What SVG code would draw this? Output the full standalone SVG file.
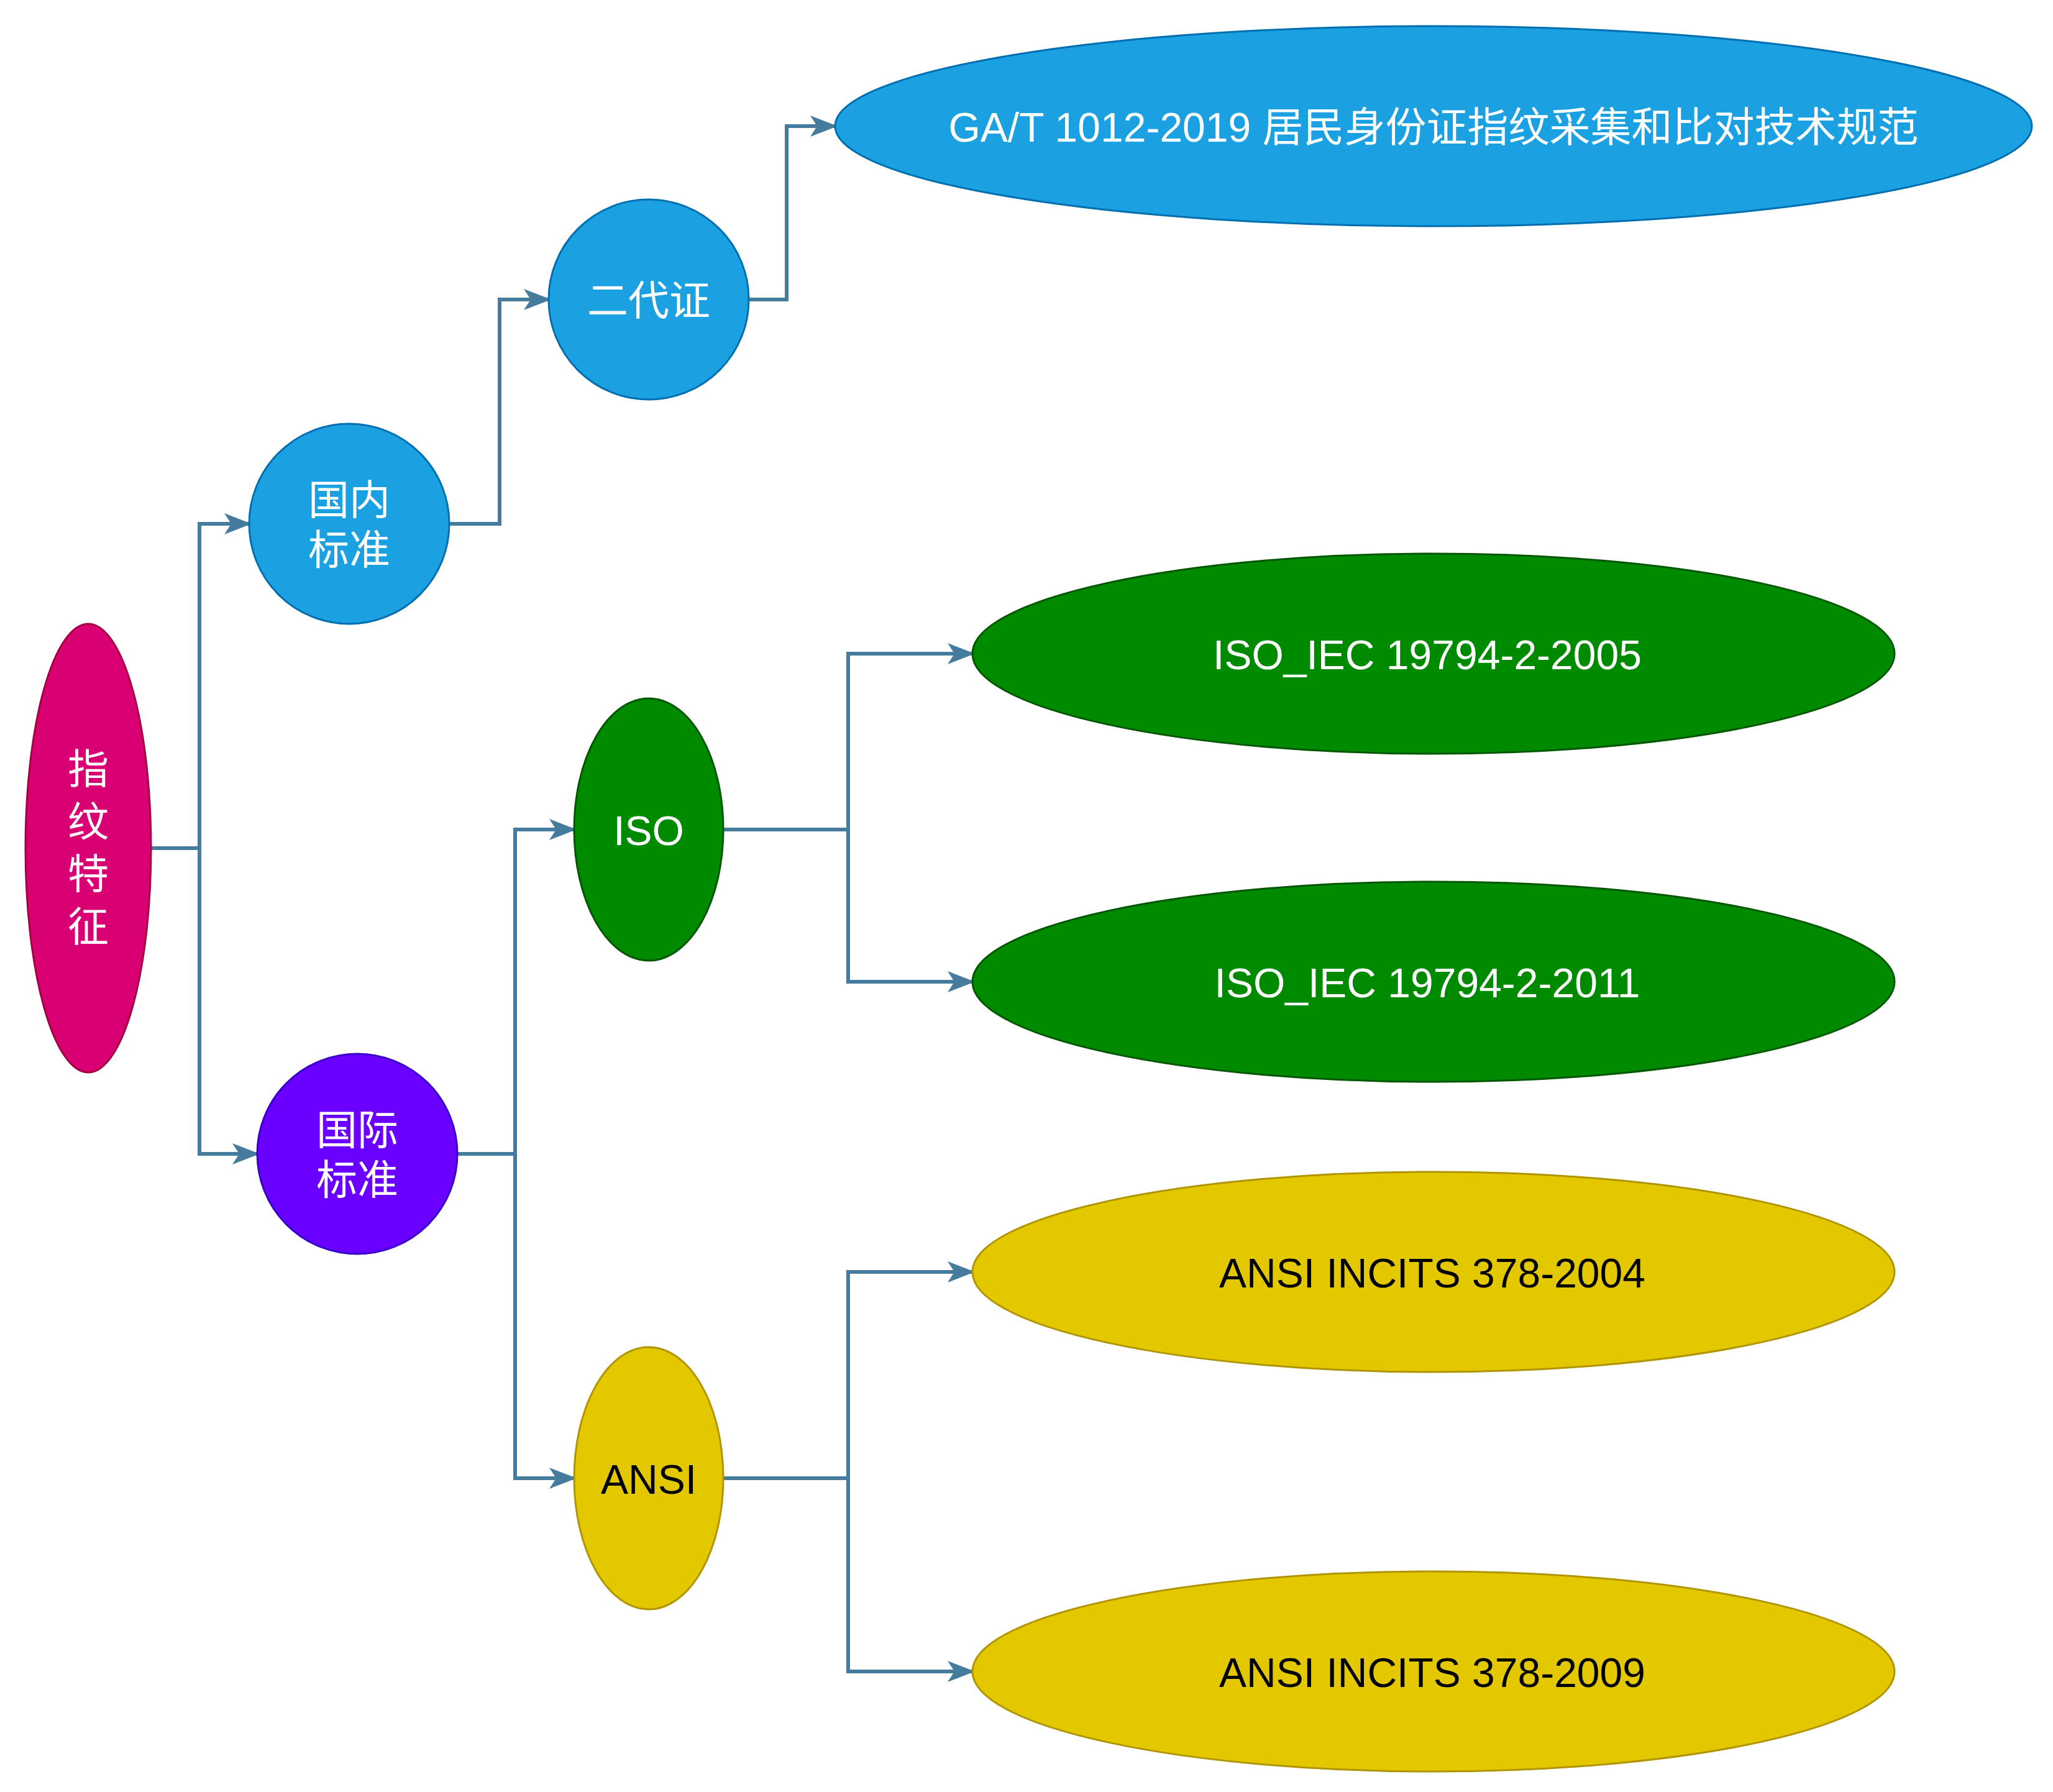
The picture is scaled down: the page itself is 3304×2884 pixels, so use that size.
<svg xmlns="http://www.w3.org/2000/svg" width="3304" height="2884" viewBox="0 0 3304 2884">
<style>
text{font-family:"Liberation Sans","Noto Sans CJK SC",sans-serif;font-size:66px;text-anchor:middle;dominant-baseline:central;fill:#fff}
.dk{fill:#000}
.n{stroke-width:3}
#edges path{fill:none;stroke:#457b9d;stroke-width:6;marker-end:url(#ah)}
</style>
<defs>
<marker id="ah" markerUnits="userSpaceOnUse" markerWidth="44" markerHeight="34" refX="40" refY="17" orient="auto" viewBox="0 0 44 34">
<path d="M0,0 L44,17 L0,34 L11,17 Z" fill="#457b9d"/>
</marker>
</defs>
<rect width="3304" height="2884" fill="#fff"/>
<g id="edges">
<path d="M243,1365 H321 V843 H401"/>
<path d="M243,1365 H321 V1857 H414"/>
<path d="M723,843 H804 V482 H883"/>
<path d="M1205,482 H1266 V203 H1344"/>
<path d="M736,1857 H829 V1335 H924"/>
<path d="M736,1857 H829 V2379 H924"/>
<path d="M1164,1335 H1365 V1052 H1565"/>
<path d="M1164,1335 H1365 V1580 H1565"/>
<path d="M1164,2379 H1365 V2047 H1565"/>
<path d="M1164,2379 H1365 V2690 H1565"/>
</g>
<g id="root"><ellipse class="n" cx="142" cy="1365" rx="101" ry="361" fill="#d80073" stroke="#a50040"/>
<text x="142" y="1238">指</text><text x="142" y="1323">纹</text><text x="142" y="1407">特</text><text x="142" y="1492">征</text></g>
<g id="guonei"><circle class="n" cx="562" cy="843" r="161" fill="#1ba1e2" stroke="#006eaf"/>
<text x="562" y="805">国内</text><text x="562" y="885">标准</text></g>
<g id="guoji"><circle class="n" cx="575" cy="1857" r="161" fill="#6a00ff" stroke="#3700cc"/>
<text x="575" y="1819">国际</text><text x="575" y="1899">标准</text></g>
<g id="erdai"><circle class="n" cx="1044" cy="482" r="161" fill="#1ba1e2" stroke="#006eaf"/>
<text x="1044" y="484">二代证</text></g>
<g id="gat"><ellipse class="n" cx="2307" cy="203" rx="963" ry="161" fill="#1ba1e2" stroke="#006eaf"/>
<text x="2307" y="205">GA/T 1012-2019 居民身份证指纹采集和比对技术规范</text></g>
<g id="iso"><ellipse class="n" cx="1044" cy="1335" rx="120" ry="211" fill="#008a00" stroke="#005700"/>
<text x="1044" y="1337">ISO</text></g>
<g id="ansi"><ellipse class="n" cx="1044" cy="2379" rx="120" ry="211" fill="#e3c800" stroke="#b09500"/>
<text class="dk" x="1044" y="2381">ANSI</text></g>
<g id="iso2005"><ellipse class="n" cx="2307" cy="1052" rx="742" ry="161" fill="#008a00" stroke="#005700"/>
<text x="2297" y="1054">ISO_IEC 19794-2-2005</text></g>
<g id="iso2011"><ellipse class="n" cx="2307" cy="1580" rx="742" ry="161" fill="#008a00" stroke="#005700"/>
<text x="2297" y="1582">ISO_IEC 19794-2-2011</text></g>
<g id="ansi2004"><ellipse class="n" cx="2307" cy="2047" rx="742" ry="161" fill="#e3c800" stroke="#b09500"/>
<text class="dk" x="2305" y="2049">ANSI INCITS 378-2004</text></g>
<g id="ansi2009"><ellipse class="n" cx="2307" cy="2690" rx="742" ry="161" fill="#e3c800" stroke="#b09500"/>
<text class="dk" x="2305" y="2692">ANSI INCITS 378-2009</text></g>
</svg>
